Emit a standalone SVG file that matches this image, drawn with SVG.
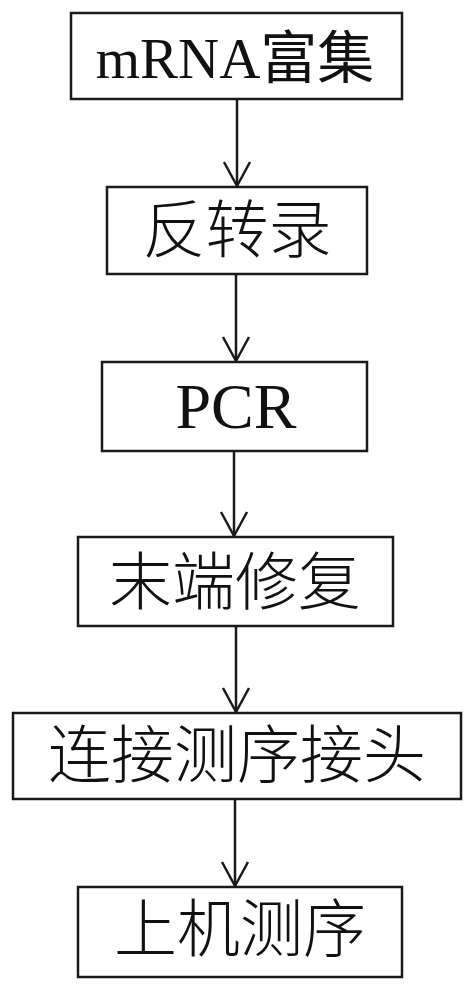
<svg xmlns="http://www.w3.org/2000/svg" width="474" height="989" viewBox="0 0 474 989">
<defs>
<style>
.box{fill:#fff;stroke:#1a1a1a;stroke-width:2.5}
.lbl{font-family:"Liberation Serif","Noto Sans CJK SC",serif;fill:#111;text-anchor:middle}
.cn{font-family:"Liberation Serif","Noto Sans CJK SC",serif;font-weight:300;fill:#111;text-anchor:middle}
.conn{stroke:#1a1a1a;stroke-width:2.5;fill:none}
</style>
<marker id="arr" markerUnits="userSpaceOnUse" markerWidth="30" markerHeight="30" refX="0" refY="0" orient="auto" overflow="visible">
<path d="M-24,-13 L0,0 L-24,13" fill="none" stroke="#1a1a1a" stroke-width="2.5"/>
</marker>
</defs>
<rect width="474" height="989" fill="#fff"/>
<g id="connectors">
<line class="conn" x1="237" y1="99" x2="237" y2="186" marker-end="url(#arr)"/>
<line class="conn" x1="236" y1="274" x2="236" y2="361" marker-end="url(#arr)"/>
<line class="conn" x1="234" y1="451" x2="234" y2="536" marker-end="url(#arr)"/>
<line class="conn" x1="236" y1="626" x2="236" y2="712" marker-end="url(#arr)"/>
<line class="conn" x1="235" y1="799" x2="235" y2="886" marker-end="url(#arr)"/>
</g>
<g id="n1">
<rect class="box" x="71" y="13" width="331" height="86"/>
<text class="lbl" x="235" y="78" font-size="57">mRNA富集</text>
</g>
<g id="n2">
<rect class="box" x="107" y="187" width="260" height="87"/>
<text class="cn" x="237" y="252" font-size="63">反转录</text>
</g>
<g id="n3">
<rect class="box" x="102" y="362" width="265" height="89"/>
<text class="lbl" x="236" y="428" font-size="64">PCR</text>
</g>
<g id="n4">
<rect class="box" x="78" y="537" width="315" height="89"/>
<text class="cn" x="235" y="604" font-size="63">末端修复</text>
</g>
<g id="n5">
<rect class="box" x="13" y="713" width="448" height="86"/>
<text class="cn" x="237" y="777" font-size="63">连接测序接头</text>
</g>
<g id="n6">
<rect class="box" x="78" y="887" width="324" height="90"/>
<text class="cn" x="240" y="951" font-size="63">上机测序</text>
</g>
</svg>
